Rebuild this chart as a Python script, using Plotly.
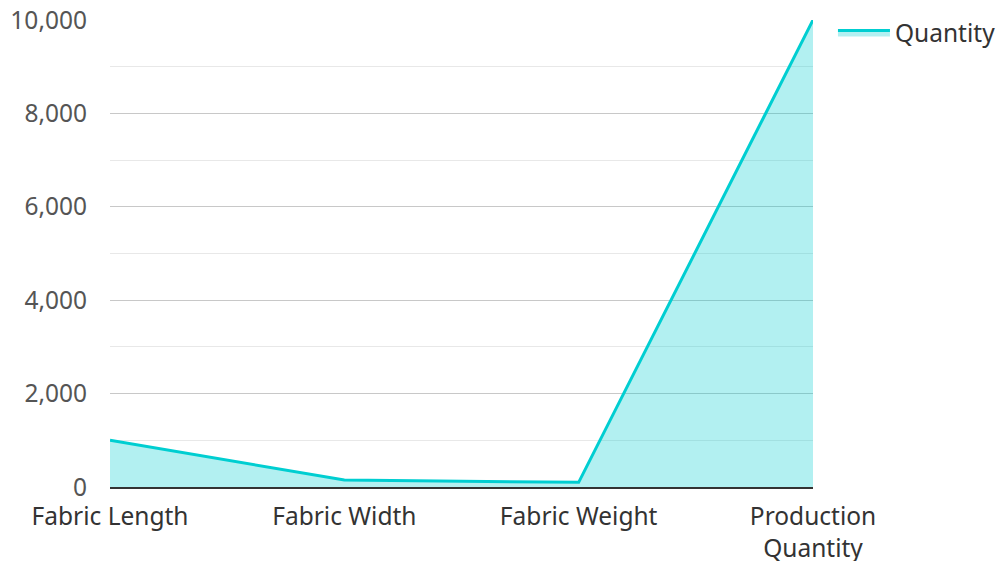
import plotly.graph_objects as go

categories = ["Fabric Length", "Fabric Width", "Fabric Weight", "Production<br>Quantity"]
quantity = [1000, 150, 100, 10000]
series_name = "Quantity"

LINE = "rgb(0,206,209)"
FILL = "rgba(0,206,209,0.3)"
FONT = "Noto Sans"
FS = 24.5

fig = go.Figure()
fig.add_trace(go.Scatter(
    x=list(range(len(categories))),
    y=quantity,
    name=series_name,
    mode="lines",
    line=dict(color=LINE, width=3),
    fill="tozeroy",
    fillcolor=FILL,
))

fig.update_layout(
    width=1002, height=561,
    margin=dict(l=110, r=189, t=20, b=74, autoexpand=False),
    paper_bgcolor="white", plot_bgcolor="white",
    font=dict(family=FONT, size=FS, color="#555"),
    showlegend=True,
    legend=dict(xref="container", yref="container",
                x=0.8313, y=0.982, xanchor="left", yanchor="top",
                font=dict(size=FS, color="#333"), itemwidth=52,
                bgcolor="rgba(0,0,0,0)"),
    xaxis=dict(
        range=[0, len(categories) - 1], automargin=False,
        tickmode="array", tickvals=list(range(len(categories))), ticktext=categories,
        showgrid=False, zeroline=False,
        showline=True, linecolor="#333", linewidth=2,
        ticks="", ticklabelstandoff=7, tickfont=dict(size=FS, color="#333"),
    ),
    yaxis=dict(
        range=[0, 10000], dtick=2000, tickformat=",d", automargin=False,
        showgrid=True, gridcolor="#c8c8c8", gridwidth=1,
        minor=dict(dtick=1000, showgrid=True, gridcolor="#e8e8e8", gridwidth=1),
        zeroline=False, showline=False, ticks="",
        ticklabelstandoff=22,
        tickfont=dict(size=FS, color="#555"),
    ),
)

fig.write_html("out.html")
